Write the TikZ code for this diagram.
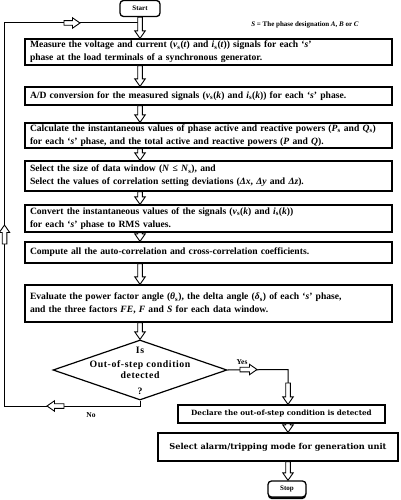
\documentclass[tikz,border=0pt]{standalone}
\usepackage{fontspec}
\setmainfont{Liberation Serif}
\newfontfamily\declfont{DejaVu Serif}
\newfontfamily\spacedfont[LetterSpace=6]{Liberation Serif}
\usetikzlibrary{calc,shapes.geometric,shadows}

\tikzset{
  box/.style={draw, line width=1.2pt, minimum width=367pt, text width=357pt,
    inner xsep=5pt, inner ysep=0pt, align=left,
    font=\fontsize{9.6}{13}\selectfont\bfseries},
  endbox/.style={draw, line width=1.2pt, inner sep=0pt, align=center,
    font=\declfont\bfseries},
  term/.style={draw, line width=1.3pt, rounded corners=3.5pt, inner sep=0pt,
    minimum width=40pt, minimum height=16pt, fill=white,
    font=\fontsize{7}{8}\selectfont\bfseries},
  dia/.style={draw, diamond, line width=1.2pt, inner sep=0pt,
    minimum width=174pt, minimum height=60pt},
  diatext/.style={align=center, inner sep=0pt,
    font=\spacedfont\fontsize{9.8}{13}\selectfont\bfseries},
  lbl/.style={inner sep=0pt, font=\fontsize{7.5}{9}\selectfont\bfseries},
  conn/.style={line width=1pt},
  barrowst/.style={draw, fill=white, line width=0.9pt, line join=miter},
}

% hollow block arrow from #1 to #2 (coordinates)
\newcommand\barrow[2]{%
  \coordinate (ba) at #1;
  \coordinate (bb) at #2;
  \coordinate (bh) at ($(bb)!7.5pt!(ba)$);
  \draw[barrowst] ($(ba)!2.3pt!90:(bb)$) -- ($(bh)!2.3pt!90:(bb)$)
    -- ($(bh)!5.2pt!90:(bb)$) -- (bb) -- ($(bh)!5.2pt!-90:(bb)$)
    -- ($(bh)!2.3pt!-90:(bb)$) -- ($(ba)!2.3pt!-90:(bb)$) -- cycle;}

\begin{document}
\begin{tikzpicture}[x=1pt, y=-1pt]
\useasboundingbox (0,0) rectangle (400,500);
\fill[white] (0,0) rectangle (400,500);

\coordinate (ax) at (140,0);

% terminals
\node[term] (start) at (140,8.5) {Start};
\node[term, minimum width=38pt, drop shadow={shadow xshift=0pt, shadow yshift=-2pt, fill=black, opacity=1}] (stop) at (287,489) {Stop};

\node[lbl, font=\fontsize{7}{8}\selectfont\bfseries] (note) at (305,25)
  {\textit{S} = The phase designation \textit{A}, \textit{B} or \textit{C}};

% process boxes
\node[box, minimum height=26pt] (b1) at (208.5,52)
  {Measure the voltage and current (\textit{v}\textsubscript{s}(\textit{t}) and \textit{i}\textsubscript{s}(\textit{t})) signals for each ‘\textit{s}’\\
   phase at the load terminals of a synchronous generator.};
\node[box, minimum height=18pt] (b2) at (208.5,96)
  {A/D conversion for the measured signals (\textit{v}\textsubscript{s}(\textit{k}) and \textit{i}\textsubscript{s}(\textit{k})) for each ‘\textit{s}’ phase.};
\node[box, minimum height=25pt] (b3) at (208.5,135.5)
  {Calculate the instantaneous values of phase active and reactive powers (\textit{P}\textsubscript{s} and \textit{Q}\textsubscript{s})\\
   for each ‘\textit{s}’ phase, and the total active and reactive powers (\textit{P} and \textit{Q}).};
\node[box, minimum height=30pt] (b4) at (208.5,176)
  {Select the size of data window (\textit{N} ≤ \textit{N}\textsubscript{s}), and\\
   Select the values of correlation setting deviations (\textit{Δx}, \textit{Δy} and \textit{Δz}).};
\node[box, minimum height=27pt] (b5) at (208.5,218.5)
  {Convert the instantaneous values of the signals (\textit{v}\textsubscript{s}(\textit{k}) and \textit{i}\textsubscript{s}(\textit{k}))\\
   for each ‘\textit{s}’ phase to RMS values.};
\node[box, minimum height=21pt] (b6) at (208.5,252.5)
  {Compute all the auto-correlation and cross-correlation coefficients.};
\node[box, minimum height=37pt] (b7) at (208.5,303.5)
  {Evaluate the power factor angle (\textit{θ}\textsubscript{s}), the delta angle (\textit{δ}\textsubscript{s}) of each ‘\textit{s}’ phase,\\
   and the three factors \textit{FE}, \textit{F} and \textit{S} for each data window.};

% decision
\node[dia] (dia) at (140,370) {};
\node[diatext] (diat) at (140,371)
  {Is\\[1pt]Out-of-step condition\\[-2pt]detected\\[3pt]?};

% yes branch boxes
\node[endbox, minimum width=207pt, minimum height=18pt, font=\declfont\fontsize{7.2}{9}\selectfont\bfseries] (decl) at (281.5,414)
  {Declare the out-of-step condition is detected};
\node[endbox, minimum width=240pt, minimum height=28pt, font=\declfont\fontsize{8.2}{10}\selectfont\bfseries] (alarm) at (278,447)
  {Select alarm/tripping mode for generation unit};

% connector coordinates
\coordinate (nl) at (140,406);
\coordinate (ll) at (4.5,406);
\coordinate (lt) at (4.5,23);
\coordinate (rt) at (138,23);
\coordinate (yc) at (288,369.5);
\coordinate (yd) at (288,383);

% loop (No) line
\draw[conn] (dia.south) -- (nl) -- (ll) -- (lt) -- (rt);
% yes line
\draw[conn] (dia.east) -- (yc) -- (yd);

% labels
\node[lbl] (yes) at (242,362) {Yes};
\node[lbl] (no) at (91,415) {No};

% block arrows on lines
\barrow{(64,23)}{(80,23)}
\barrow{(4.5,244)}{(4.5,225)}
\barrow{(64,406)}{(47,406)}
\barrow{(240,369.5)}{(257,369.5)}

% block arrows between boxes
\barrow{(start.south -| ax)}{(b1.north -| ax)}
\barrow{(b1.south -| ax)}{(b2.north -| ax)}
\barrow{(b2.south -| ax)}{(b3.north -| ax)}
\barrow{(b3.south -| ax)}{(b4.north -| ax)}
\barrow{(b4.south -| ax)}{(b5.north -| ax)}
\barrow{(b5.south -| ax)}{(b6.north -| ax)}
\barrow{(b6.south -| ax)}{(b7.north -| ax)}
\barrow{(b7.south -| ax)}{(dia.north)}
\barrow{(yd)}{(decl.north -| yd)}
\barrow{(decl.south -| yd)}{(alarm.north -| yd)}
\barrow{(alarm.south -| yd)}{(stop.north -| yd)}
\end{tikzpicture}
\end{document}
